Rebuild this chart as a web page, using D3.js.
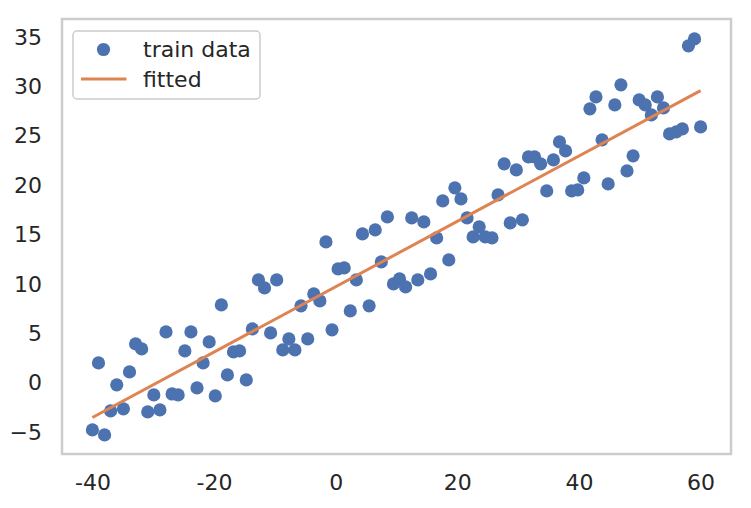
<!DOCTYPE html>
<html>
<head>
<meta charset="utf-8">
<script src="https://cdn.jsdelivr.net/npm/d3@7/dist/d3.min.js"></script>
<style>
  html, body { margin: 0; padding: 0; background: #ffffff; }
  svg { display: block; }
</style>
</head>
<body>
<svg id="chart" width="751" height="508"></svg>
<script>
// ---- data ----
const trainX = [
  -40.0, -39.0, -38.0, -37.0, -36.0, -34.9, -33.9, -32.9, -31.9, -30.9,
  -29.9, -28.9, -27.9, -26.9, -25.9, -24.8, -23.8, -22.8, -21.8, -20.8,
  -19.8, -18.8, -17.8, -16.8, -15.8, -14.7, -13.7, -12.7, -11.7, -10.7,
  -9.7, -8.7, -7.7, -6.7, -5.7, -4.6, -3.6, -2.6, -1.6, -0.6,
  0.4, 1.4, 2.4, 3.4, 4.4, 5.5, 6.5, 7.5, 8.5, 9.5,
  10.5, 11.5, 12.5, 13.5, 14.5, 15.6, 16.6, 17.6, 18.6, 19.6,
  20.6, 21.6, 22.6, 23.6, 24.6, 25.7, 26.7, 27.7, 28.7, 29.7,
  30.7, 31.7, 32.7, 33.7, 34.7, 35.8, 36.8, 37.8, 38.8, 39.8,
  40.8, 41.8, 42.8, 43.8, 44.8, 45.9, 46.9, 47.9, 48.9, 49.9,
  50.9, 51.9, 52.9, 53.9, 54.9, 56.0, 57.0, 58.0, 59.0, 60.0
];
const trainY = [
  -4.86, 1.92, -5.37, -2.94, -0.30, -2.73, 1.01, 3.85, 3.34, -3.04,
  -1.32, -2.84, 5.06, -1.22, -1.32, 3.14, 5.06, -0.61, 1.92, 4.05,
  -1.42, 7.80, 0.71, 3.04, 3.14, 0.20, 5.37, 10.33, 9.52, 4.96,
  10.33, 3.24, 4.35, 3.24, 7.70, 4.35, 8.91, 8.20, 14.18, 5.27,
  11.44, 11.54, 7.19, 10.33, 14.99, 7.70, 15.39, 12.15, 16.71, 9.92,
  10.43, 9.62, 16.61, 10.33, 16.20, 10.94, 14.58, 18.33, 12.35, 19.65,
  18.53, 16.61, 14.68, 15.70, 14.68, 14.58, 18.94, 22.08, 16.10, 21.47,
  16.41, 22.78, 22.78, 22.08, 19.34, 22.48, 24.30, 23.39, 19.34, 19.44,
  20.66, 27.65, 28.86, 24.51, 20.05, 28.05, 30.08, 21.37, 22.89, 28.56,
  28.05, 27.04, 28.86, 27.75, 25.11, 25.32, 25.62, 34.03, 34.73, 25.82
];
const fittedX = [-40, 60];
const fittedY = [-3.6, 29.5];
const xTicks = [-40, -20, 0, 20, 40, 60];
const yTicks = [-5, 0, 5, 10, 15, 20, 25, 30, 35];
const legendLabels = ["train data", "fitted"];

// ---- layout ----
const plot = { left: 62, right: 731, top: 19, bottom: 454 };
const BLUE = "#4c72b0", ORANGE = "#dd8452", TEXT = "#262626", EDGE = "#cccccc";
const FONT = "DejaVu Sans, sans-serif";
const FS = 22;

const svg = d3.select("#chart");

const x = d3.scaleLinear().domain([-45, 65]).range([plot.left, plot.right]);
const y = d3.scaleLinear().domain([-7.3, 36.75]).range([plot.bottom, plot.top]);

// axes (labels only, no tick marks)
const xAxis = d3.axisBottom(x).tickValues(xTicks).tickSize(0).tickPadding(0)
  .tickFormat(d => String(d));
const gx = svg.append("g").attr("transform", `translate(0,${plot.bottom})`).call(xAxis);
gx.select(".domain").remove();
gx.selectAll("text")
  .attr("y", 36).attr("dy", null)
  .attr("font-family", FONT).attr("font-size", FS).attr("fill", TEXT);

const yAxis = d3.axisLeft(y).tickValues(yTicks).tickSize(0).tickPadding(0);
const gy = svg.append("g").attr("transform", `translate(${plot.left},0)`).call(yAxis);
gy.select(".domain").remove();
gy.selectAll("text")
  .attr("x", -20).attr("dy", "0.36em")
  .attr("font-family", FONT).attr("font-size", FS).attr("fill", TEXT);

// points
const pts = trainX.map((v, i) => ({ x: v, y: trainY[i] }));
svg.append("g").selectAll("circle").data(pts).join("circle")
  .attr("cx", d => x(d.x)).attr("cy", d => y(d.y)).attr("r", 6.6)
  .attr("fill", BLUE);

// fitted line
const fitted = fittedX.map((v, i) => ({ x: v, y: fittedY[i] }));
svg.append("path").datum(fitted)
  .attr("d", d3.line().x(d => x(d.x)).y(d => y(d.y)))
  .attr("fill", "none").attr("stroke", ORANGE).attr("stroke-width", 3);

// frame
svg.append("rect")
  .attr("x", plot.left).attr("y", plot.top)
  .attr("width", plot.right - plot.left).attr("height", plot.bottom - plot.top)
  .attr("fill", "none").attr("stroke", EDGE).attr("stroke-width", 2.5);

// legend
const lg = svg.append("g");
lg.append("rect").attr("x", 73).attr("y", 31).attr("width", 187).attr("height", 68)
  .attr("rx", 4).attr("fill", "#ffffff").attr("fill-opacity", 0.8)
  .attr("stroke", EDGE).attr("stroke-width", 1.5);
lg.append("circle").attr("cx", 103.5).attr("cy", 49.5).attr("r", 6.6).attr("fill", BLUE);
lg.append("line").attr("x1", 81).attr("x2", 126.5).attr("y1", 79).attr("y2", 79)
  .attr("stroke", ORANGE).attr("stroke-width", 3);
lg.selectAll("text").data(legendLabels).join("text")
  .attr("x", 143).attr("y", (d, i) => 57 + i * 30)
  .attr("font-family", FONT).attr("font-size", FS).attr("fill", TEXT)
  .text(d => d);
</script>
</body>
</html>
